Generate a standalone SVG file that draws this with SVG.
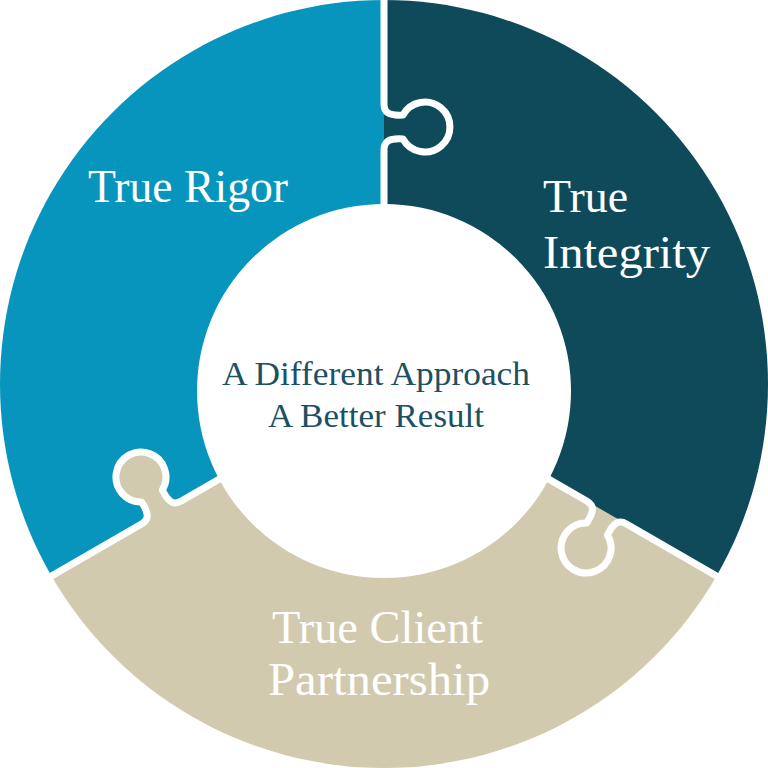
<svg xmlns="http://www.w3.org/2000/svg" width="768" height="768" viewBox="0 0 768 768">
  <style>
    .seam { fill: none; stroke: #ffffff; stroke-width: 7; stroke-linejoin: round; stroke-linecap: butt; }
    .lbl { font-family: "Liberation Serif", "DejaVu Serif", serif; font-size: 46px; fill: #ffffff; }
    .ctr { font-family: "Liberation Serif", "DejaVu Serif", serif; font-size: 34px; fill: #1B5163; text-anchor: middle; }
  </style>
  <defs>
    <path id="tabFill" d="M 234,-3 L 234,0 C 242,0 246,4 245,19 A 25,25 0 1 0 269,19 C 268,4 272,0 280,0 L 280,-3 Z"/>
    <path id="seamPath" d="M 150,0 L 234,0 C 242,0 246,4 245,19 A 25,25 0 1 0 269,19 C 268,4 272,0 280,0 L 400,0"/>
  </defs>
  <rect width="768" height="768" fill="#ffffff"/>

  <g id="rigor">
    <path d="M384,384 L384,0 A384,384 0 0 0 51.45,576 Z" fill="#0895BD"/>
    <use href="#tabFill" transform="translate(384,384) rotate(-90)" fill="#0895BD"/>
  </g>
  <g id="integrity">
    <path d="M384,384 L384,0 A384,384 0 0 1 716.55,576 Z" fill="#0F4A5B"/>
    <use href="#tabFill" transform="translate(384,384) rotate(30)" fill="#0F4A5B"/>
  </g>
  <g id="partnership">
    <path d="M384,384 L716.55,576 A384,384 0 0 1 51.45,576 Z" fill="#D2CAAF"/>
    <use href="#tabFill" transform="translate(384,384) rotate(150)" fill="#D2CAAF"/>
  </g>

  <g id="connectors">
    <use href="#seamPath" class="seam" transform="translate(384,384) rotate(-90)"/>
    <use href="#seamPath" class="seam" transform="translate(384,384) rotate(30)"/>
    <use href="#seamPath" class="seam" transform="translate(384,384) rotate(150)"/>
  </g>

  <g id="center">
    <circle cx="384" cy="391" r="187" fill="#ffffff"/>
    <text class="ctr" x="222" y="385" textLength="308" lengthAdjust="spacingAndGlyphs" style="text-anchor:start">A Different Approach</text>
    <text class="ctr" x="268" y="427" textLength="216" lengthAdjust="spacingAndGlyphs" style="text-anchor:start">A Better Result</text>
  </g>

  <g id="labels">
    <text class="lbl" x="88" y="202" textLength="200" lengthAdjust="spacingAndGlyphs">True Rigor</text>
    <text class="lbl" x="543" y="212" textLength="85" lengthAdjust="spacingAndGlyphs">True</text>
    <text class="lbl" x="543" y="268" textLength="167" lengthAdjust="spacingAndGlyphs">Integrity</text>
    <text class="lbl" x="272" y="643" textLength="211" lengthAdjust="spacingAndGlyphs">True Client</text>
    <text class="lbl" x="268" y="695" textLength="222" lengthAdjust="spacingAndGlyphs">Partnership</text>
  </g>
</svg>
